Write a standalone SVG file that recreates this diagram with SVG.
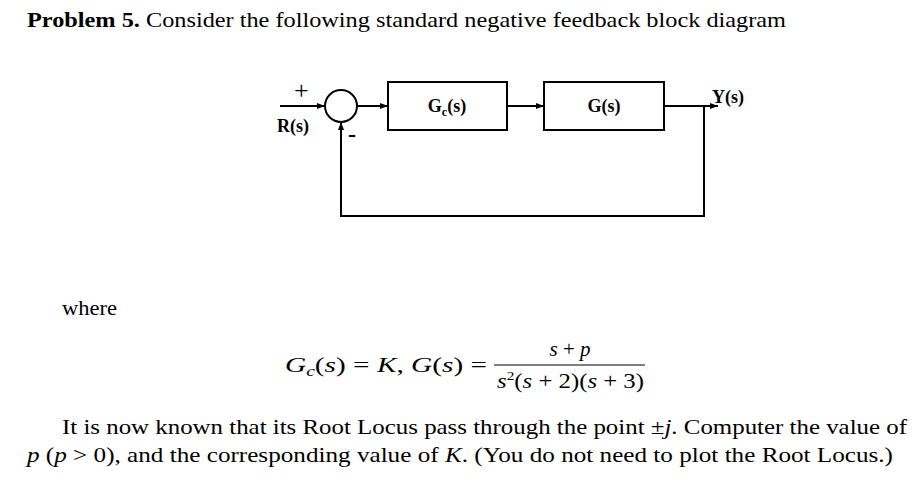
<svg xmlns="http://www.w3.org/2000/svg" width="922" height="485" viewBox="0 0 922 485">
<defs><marker id="a" markerWidth="8" markerHeight="6" refX="8" refY="3" orient="auto" markerUnits="userSpaceOnUse"><path d="M0,0L8,3L0,6z" fill="#000"/></marker></defs>
<style>
.t{font-family:"Liberation Serif",serif;font-size:21px;fill:#000}
.b{font-family:"Liberation Serif",serif;font-size:18px;font-weight:bold;fill:#000}
.w{fill:#fff;stroke:#000;stroke-width:2}
.c{fill:none;stroke:#000;stroke-width:2}
</style>
<rect width="922" height="485" fill="#fff"/>
<text class="t" x="27" y="27" textLength="759" lengthAdjust="spacingAndGlyphs"><tspan font-weight="bold">Problem 5.</tspan> Consider the following standard negative feedback block diagram</text>
<g id="sum"><circle class="w" cx="341" cy="106" r="16"/></g>
<g id="gc"><rect class="w" x="388" y="82" width="119" height="48"/><text class="b" x="447" y="112" text-anchor="middle">G<tspan style="font-size:12px" dy="4">c</tspan><tspan dy="-4">(s)</tspan></text></g>
<g id="g"><rect class="w" x="544" y="82" width="120" height="48"/><text class="b" x="604" y="112" text-anchor="middle">G(s)</text></g>
<g id="conn">
<path class="c" d="M280,106H325" marker-end="url(#a)"/>
<path class="c" d="M357,106H388" marker-end="url(#a)"/>
<path class="c" d="M507,106H544" marker-end="url(#a)"/>
<path class="c" d="M664,106H718" marker-end="url(#a)"/>
<path class="c" d="M704,106V216H341V122" marker-end="url(#a)"/>
</g>
<text class="t" x="294" y="99" style="font-size:26px">+</text>
<text class="b" x="277" y="132">R(s)</text>
<text class="b" x="348" y="142" style="font-size:24px">-</text>
<text class="b" x="712" y="103">Y(s)</text>
<text class="t" x="62" y="315" textLength="55" lengthAdjust="spacingAndGlyphs">where</text>
<text class="t" x="285" y="372" textLength="202" lengthAdjust="spacingAndGlyphs"><tspan font-style="italic">G</tspan><tspan font-style="italic" style="font-size:14px" dy="4">c</tspan><tspan dy="-4">(</tspan><tspan font-style="italic">s</tspan>) = <tspan font-style="italic">K</tspan>,   <tspan font-style="italic">G</tspan>(<tspan font-style="italic">s</tspan>) =</text>
<line x1="494" y1="365" x2="645" y2="365" stroke="#000" stroke-width="1.2"/>
<text class="t" x="570" y="356" text-anchor="middle"><tspan font-style="italic">s</tspan> + <tspan font-style="italic">p</tspan></text>
<text class="t" x="497" y="388" textLength="147" lengthAdjust="spacingAndGlyphs"><tspan font-style="italic">s</tspan><tspan style="font-size:13px" dy="-8">2</tspan><tspan dy="8">(</tspan><tspan font-style="italic">s</tspan> + 2)(<tspan font-style="italic">s</tspan> + 3)</text>
<text class="t" x="62" y="434" textLength="845" lengthAdjust="spacingAndGlyphs">It is now known that its Root Locus pass through the point ±<tspan font-style="italic">j</tspan>. Computer the value of</text>
<text class="t" x="27" y="462" textLength="866" lengthAdjust="spacingAndGlyphs"><tspan font-style="italic">p</tspan> (<tspan font-style="italic">p</tspan> &gt; 0), and the corresponding value of <tspan font-style="italic">K</tspan>. (You do not need to plot the Root Locus.)</text>
</svg>
